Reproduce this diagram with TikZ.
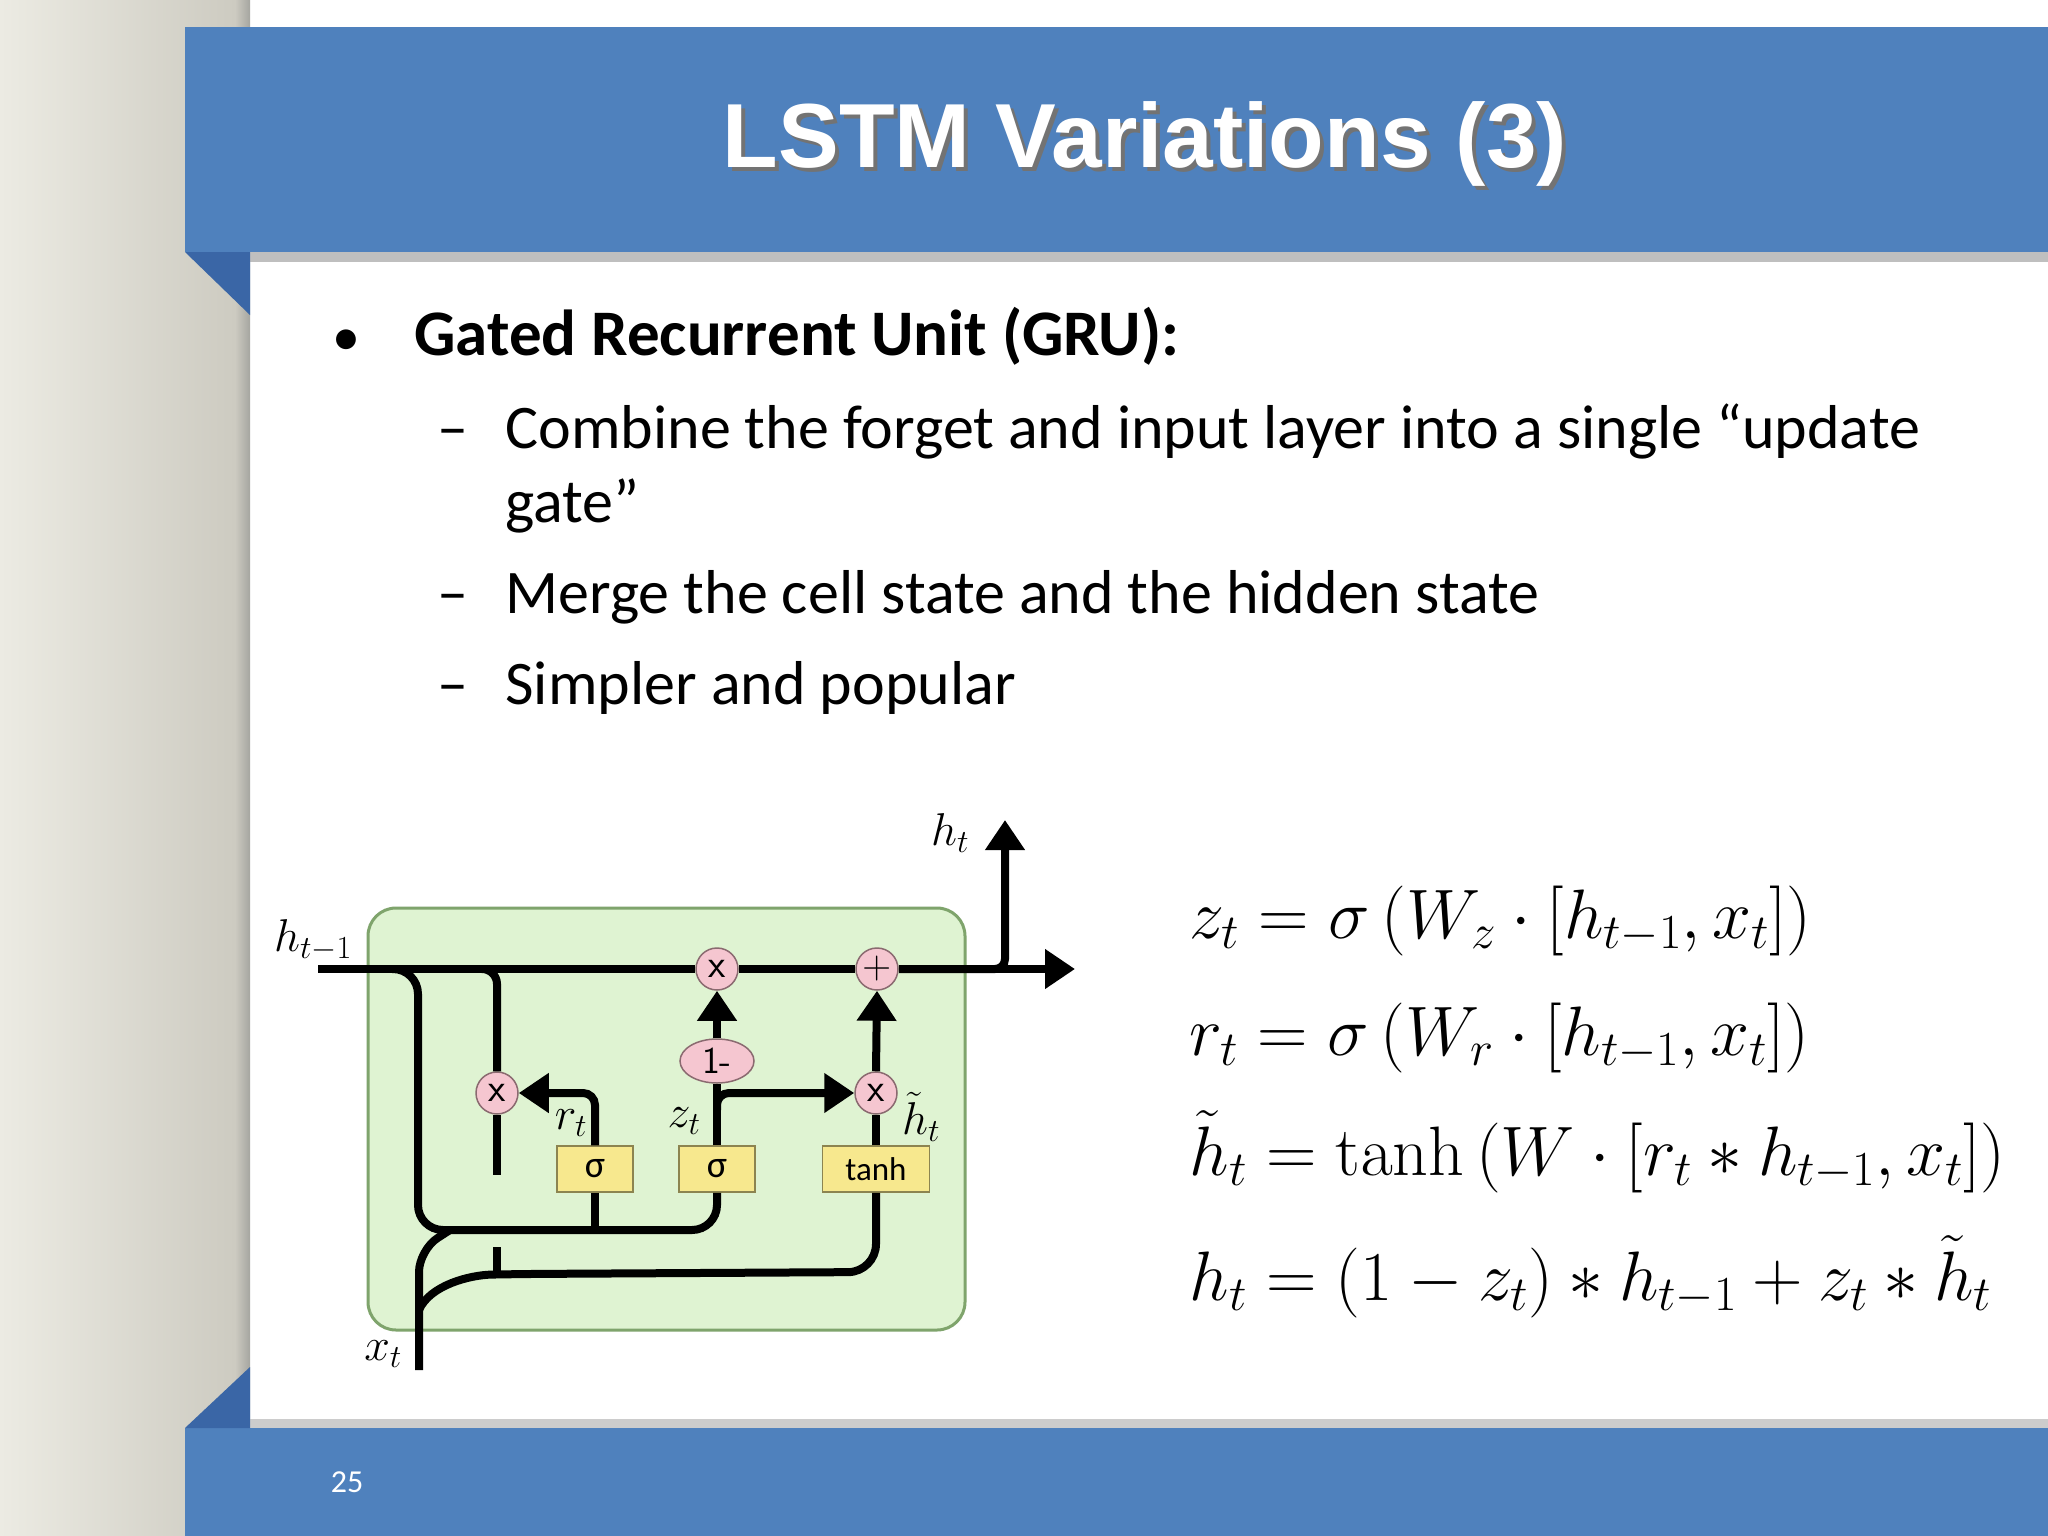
\RequirePackage{fix-cm}
\documentclass[tikz,border=0pt]{standalone}
\usepackage[no-math]{fontspec}
\setmainfont{Carlito}
\newfontfamily\titlefont{Liberation Sans}
\usetikzlibrary{arrows.meta,shapes.geometric}
\definecolor{hdr}{HTML}{4F81BD}
\definecolor{hdrdk}{HTML}{3A66A6}
\definecolor{cellg}{HTML}{DFF3D2}
\definecolor{cellb}{HTML}{7FA46C}
\definecolor{opfill}{HTML}{F5C6D0}
\definecolor{opdraw}{HTML}{8A6A70}
\definecolor{lay}{HTML}{F7E88E}
\definecolor{laydr}{HTML}{8C8450}
\tikzset{
 wire/.style={line width=8pt,black},
 warr/.style={wire,-{Triangle[length=30pt,width=38pt]}},
 op/.style={circle,draw=opdraw,fill=opfill,line width=1.5pt,minimum size=42pt,inner sep=0pt,font=\sffamily\fontsize{40}{40}\selectfont},
 layer/.style={draw=laydr,fill=lay,line width=1.5pt,minimum height=46pt,inner sep=0pt,font=\fontsize{38}{38}\selectfont},
 lbl/.style={font=\fontsize{46}{46}\selectfont},
 bodytxt/.style={anchor=base west,font=\fontsize{62}{62}\selectfont},
 eq/.style={anchor=base west,font=\fontsize{70}{70}\selectfont}
}
\begin{document}
\begin{tikzpicture}[x=1pt,y=-1pt]
\useasboundingbox (0,0) rectangle (2048,1536);
\fill[white] (0,0) rectangle (2048,1536);
% left strip
\shade[left color={rgb,255:red,236;green,235;blue,227},right color={rgb,255:red,205;green,203;blue,193}] (0,0) rectangle (235,1536);
\shade[left color={rgb,255:red,205;green,203;blue,193},right color={rgb,255:red,165;green,165;blue,160}] (235,0) rectangle (250,1536);
% header
\fill[black!25] (250,252) rectangle (2048,262);
\fill[hdr] (185,27) rectangle (2048,252);
\fill[hdrdk] (185,252) -- (250,252) -- (250,315) -- cycle;
\node (title) [text=black!55,font=\titlefont\bfseries\fontsize{91}{91}\selectfont] at (1149,148) {LSTM Variations (3)};
\node (title2) [text=white,font=\titlefont\bfseries\fontsize{91}{91}\selectfont] at (1145,144) {LSTM Variations (3)};
% footer
\fill[black!20] (250,1419) rectangle (2048,1428);
\fill[hdr] (185,1428) rectangle (2048,1536);
\fill[hdrdk] (250,1367) -- (250,1428) -- (185,1428) -- cycle;
\node (pg) [text=white,anchor=base,font=\fontsize{32}{32}\selectfont] at (347,1492) {25};
% bullets
\node (b1) [anchor=base,font=\fontsize{56}{56}\selectfont] at (346,355) {•};
\node (t1) [bodytxt,font=\bfseries\fontsize{65}{65}\selectfont] at (411,355) {Gated Recurrent Unit (GRU):};
\node (d1) [bodytxt] at (434,448) {–};
\node (t2) [bodytxt] at (502,448) {Combine the forget and input layer into a single “update};
\node (t2b) [bodytxt] at (502,522) {gate”};
\node (d2) [bodytxt] at (434,613) {–};
\node (t3) [bodytxt] at (502,613) {Merge the cell state and the hidden state};
\node (d3) [bodytxt] at (434,704) {–};
\node (t4) [bodytxt] at (502,704) {Simpler and popular};
% equations
\node (e1) [eq] at (1186,938) {$z_t = \sigma\left(W_z\cdot[h_{t-1},x_t]\right)$};
\node (e2) [eq] at (1186,1055) {$r_t = \sigma\left(W_r\cdot[h_{t-1},x_t]\right)$};
\node (e3) [eq] at (1186,1175) {$\tilde h_t = \tanh\left(W\cdot[r_t*h_{t-1},x_t]\right)$};
\node (e4) [eq] at (1186,1300) {$h_t = (1-z_t)*h_{t-1}+z_t*\tilde h_t$};
% GRU cell
\draw[cellb,fill=cellg,line width=3pt,rounded corners=28pt] (368,908) rectangle (965,1330);
\coordinate (in) at (318,969);
\coordinate (out) at (1075,969);
\coordinate (up) at (1005,820);
\coordinate (xin) at (419,1370);
\node (mx) [op] at (717,969) {x};
\node (pl) [op] at (877,969) {+};
\node (om) [ellipse,draw=opdraw,fill=opfill,line width=1.5pt,minimum width=74pt,minimum height=44pt,inner sep=0pt,font=\sffamily\fontsize{38}{38}\selectfont] at (717,1061) {1-};
\node (rx) [op] at (497,1093) {x};
\node (hx) [op] at (876,1093) {x};
\node (s1) [layer,minimum width=76pt] at (595,1169) {σ};
\node (s2) [layer,minimum width=76pt] at (717,1169) {σ};
\node (th) [layer,minimum width=107pt,font=\fontsize{33}{33}\selectfont] at (876,1169) {tanh};
% wires
\draw[wire] (in) -- (mx) -- (pl);
\draw[warr] (pl) -- (out);
\draw[warr,rounded corners=10pt] (pl.east) -| (up);
\draw[wire,rounded corners=25pt] (392,969) -| (418,1230) -- (717,1230) -- (s2.south);
\draw[wire] (s1.south) -- (595,1230);
\draw[wire,rounded corners=15pt] (483,969) -| (rx.north);
\draw[wire] (rx.south) -- (497,1175);
\draw[wire] (497,1247) -- (497,1276);
\draw[wire,rounded corners=22pt] (xin) -- (419,1250) -- (450,1230);
\draw[wire,rounded corners=28pt] (419,1310) .. controls (430,1285) and (470,1275) .. (520,1274) -- (876,1272) -- (th.south);
\draw[warr,rounded corners=12pt] (s1.north) |- (rx.east);
\draw[wire] (s2.north) -- (om.south);
\draw[warr,rounded corners=12pt] (717,1110) |- (hx.west);
\draw[warr] (om.north) -- (mx.south);
\draw[wire] (th.north) -- (hx.south);
\draw[warr] (hx.north) -- (pl.south);
% labels
\node (lh1) [lbl] at (313,940) {$h_{t-1}$};
\node (lht) [lbl] at (950,833) {$h_t$};
\node (lr) [lbl] at (571,1123) {$r_t$};
\node (lz) [lbl] at (684,1121) {$z_t$};
\node (lhh) [lbl] at (921,1117) {$\tilde h_t$};
\node (lx) [lbl] at (383,1354) {$x_t$};
\end{tikzpicture}
\end{document}
